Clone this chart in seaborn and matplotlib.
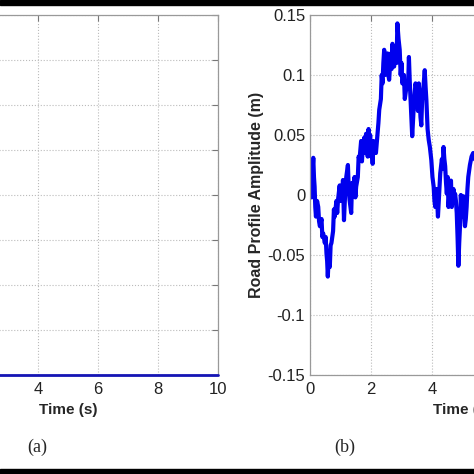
import matplotlib
matplotlib.use("Agg")
import matplotlib.pyplot as plt
from matplotlib.patches import Rectangle
import seaborn as sns
import pandas as pd

# (a) smooth road: profile stays at zero over the whole run
time_a = [0, 2, 4, 6, 8, 10]
amp_a = [0, 0, 0, 0, 0, 0]

# (b) random road profile (visible part only)
time_b = [0.000, 0.027, 0.054, 0.081, 0.108, 0.130, 0.151, 0.173, 0.195, 0.232,
          0.270, 0.297, 0.324, 0.378, 0.405, 0.432, 0.486, 0.514, 0.541, 0.562,
          0.584, 0.616, 0.649, 0.676, 0.703, 0.757, 0.784, 0.811, 0.865, 0.892,
          0.919, 0.973, 1.000, 1.027, 1.054, 1.081, 1.114, 1.150, 1.189, 1.243,
          1.270, 1.297, 1.351, 1.378, 1.405, 1.460, 1.487, 1.514, 1.568, 1.595,
          1.622, 1.676, 1.703, 1.730, 1.784, 1.811, 1.838, 1.865, 1.892, 1.920,
          1.946, 1.973, 2.000, 2.027, 2.054, 2.081, 2.108, 2.162, 2.216, 2.243,
          2.270, 2.324, 2.351, 2.378, 2.405, 2.432, 2.459, 2.486, 2.540, 2.568,
          2.595, 2.649, 2.676, 2.703, 2.730, 2.757, 2.811, 2.838, 2.865, 2.903,
          2.941, 2.973, 3.000, 3.027, 3.081, 3.108, 3.135, 3.189, 3.216, 3.243,
          3.270, 3.297, 3.324, 3.351, 3.405, 3.432, 3.459, 3.514, 3.540, 3.568,
          3.595, 3.622, 3.649, 3.676, 3.720, 3.762, 3.790, 3.816, 3.855, 3.892,
          3.930, 3.978, 4.015, 4.054, 4.081, 4.108, 4.150, 4.195, 4.232, 4.270,
          4.324, 4.351, 4.378, 4.405, 4.432, 4.460, 4.486, 4.514, 4.541, 4.568,
          4.595, 4.622, 4.649, 4.703, 4.730, 4.757, 4.784, 4.811, 4.838, 4.865,
          4.892, 4.920, 4.946, 4.973, 5.000, 5.027, 5.054, 5.081, 5.108, 5.135,
          5.162, 5.189, 5.243, 5.297, 5.350, 5.400, 5.500, 5.600]
amp_b = [0.003, 0.012, -0.002, 0.020, 0.031, 0.015, 0.007, -0.010, -0.018, -0.005,
         -0.010, -0.022, -0.026, -0.020, -0.035, -0.032, -0.040, -0.035, -0.049, -0.055,
         -0.068, -0.050, -0.060, -0.042, -0.040, -0.030, -0.012, -0.018, -0.005, -0.015,
         -0.004, 0.008, -0.005, 0.004, 0.000, 0.0125, -0.021, 0.000, 0.015, 0.025,
         0.005, -0.004, -0.015, 0.010, 0.004, 0.015, -0.002, 0.007, 0.015, 0.032,
         0.029, 0.045, 0.028, 0.040, 0.048, 0.035, 0.051, 0.045, 0.032, 0.055,
         0.040, 0.050, 0.032, 0.040, 0.026, 0.045, 0.043, 0.035, 0.051, 0.060,
         0.071, 0.080, 0.100, 0.093, 0.110, 0.121, 0.100, 0.107, 0.118, 0.100,
         0.096, 0.118, 0.105, 0.126, 0.112, 0.107, 0.120, 0.110, 0.143, 0.130,
         0.121, 0.100, 0.110, 0.093, 0.100, 0.080, 0.085, 0.095, 0.090, 0.115,
         0.095, 0.079, 0.065, 0.049, 0.075, 0.085, 0.093, 0.085, 0.070, 0.093,
         0.080, 0.065, 0.058, 0.079, 0.090, 0.104, 0.090, 0.079, 0.055, 0.046,
         0.040, 0.029, 0.015, 0.007, -0.005, -0.010, 0.005, -0.018, 0.000, 0.018,
         0.030, 0.022, 0.040, 0.030, 0.024, 0.010, 0.001, 0.015, -0.010, 0.000,
         0.007, 0.012, -0.010, 0.005, -0.005, 0.001, -0.005, -0.015, -0.035, -0.059,
         -0.040, -0.025, 0.000, -0.018, -0.010, -0.001, -0.015, -0.026, -0.020, -0.010,
         0.005, 0.015, 0.025, 0.032, 0.035, 0.030, 0.025, 0.020]

xticks = [0, 2, 4, 6, 8, 10]
xtick_labels = ["0", "2", "4", "6", "8", "10"]
# panel (a) only shows its right part: labels left of the crop stay blank
xtick_labels_a = ["", "", "4", "6", "8", "10"]
yticks_a = [0, 1, 2, 3, 4, 5, 6, 7, 8]
yticks_b = [-0.15, -0.1, -0.05, 0, 0.05, 0.1, 0.15]
ytick_labels_b = ["-0.15", "-0.1", "-0.05", "0", "0.05", "0.1", "0.15"]

sns.set_style("white")
plt.rcParams['font.family'] = ['Liberation Sans', 'DejaVu Sans']

W = 474
fig = plt.figure(figsize=(4.74, 4.74), dpi=100)

def style_axes(ax):
    for s in ax.spines.values():
        s.set_color('#999999')
        s.set_linewidth(0.9)
    ax.tick_params(direction='in', top=True, right=True, length=4, width=0.8,
                   color='#777777', labelsize=12, labelcolor='#222222')
    ax.tick_params(axis='x', pad=5)
    ax.tick_params(axis='y', pad=3.5)
    ax.grid(True, linestyle=':', color='#bbbbbb', linewidth=0.8)
    ax.set_xticks(xticks)
    ax.set_xlim(0, 10)
    ax.set_xlabel("Time (s)", fontsize=11, fontweight='bold')
    ax.xaxis.set_label_coords(0.5, (375 - 403) / 360)

ax1 = fig.add_axes([-82 / W, 99 / W, 300 / W, 360 / W])
df_a = pd.DataFrame({"t": time_a, "amp": amp_a})
sns.lineplot(data=df_a, x="t", y="amp", ax=ax1, color='#1515b5', linewidth=2.0,
             clip_on=False, zorder=5)
style_axes(ax1)
ax1.set_xticklabels(xtick_labels_a)
ax1.set_ylim(0, 8)
ax1.set_yticks(yticks_a)
ax1.set_yticklabels([])
ax1.set_ylabel("")

ax2 = fig.add_axes([310 / W, 99 / W, 305 / W, 360 / W])
df_b = pd.DataFrame({"t": time_b, "amp": amp_b})
sns.lineplot(data=df_b, x="t", y="amp", ax=ax2, color='#0000ee', linewidth=3.0)
style_axes(ax2)
ax2.set_xticklabels(xtick_labels)
ax2.set_ylim(-0.15, 0.15)
ax2.set_yticks(yticks_b)
ax2.set_yticklabels(ytick_labels_b)
ax2.set_ylabel("Road Profile Amplitude (m)", fontsize=11.5, fontweight='bold')
ax2.yaxis.set_label_coords((264 - 310) / 305, 0.5)

fig.text(37 / W, 1 - 447 / W, "(a)", fontsize=13, family='Liberation Serif',
         ha='center', va='center')
fig.text(345 / W, 1 - 447 / W, "(b)", fontsize=13, family='Liberation Serif',
         ha='center', va='center')

# black bands at the top and bottom of the scanned figure
fig.add_artist(Rectangle((0, 1 - 5 / W), 1, 5 / W, transform=fig.transFigure,
                         color='black', zorder=10))
fig.add_artist(Rectangle((0, 0), 1, 5 / W, transform=fig.transFigure,
                         color='black', zorder=10))

fig.savefig("out.png", dpi=100)
